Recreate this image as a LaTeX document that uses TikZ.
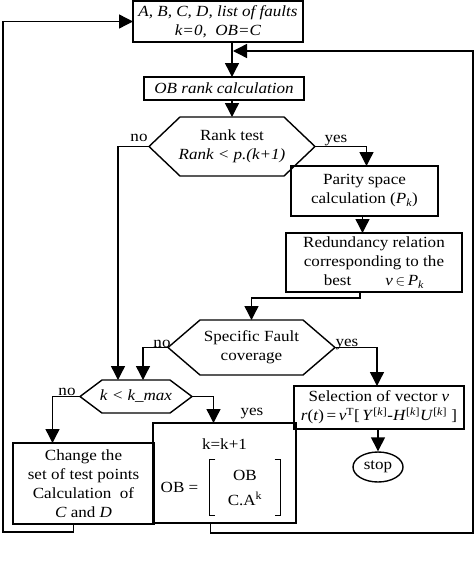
\documentclass[tikz,border=0pt]{standalone}
\usepackage{amsmath}
\usepackage{fontspec}
\setmainfont{Liberation Serif}[FakeStretch=1.1]
\usetikzlibrary{arrows.meta,shapes.geometric}

\begin{document}
\begin{tikzpicture}[x=1pt,y=-1pt,
	line width=1.4pt,
	font=\fontsize{15.5}{19}\selectfont,
	box/.style={draw, rectangle, align=center, inner sep=1pt, outer sep=0pt},
	dec/.style={align=center, inner sep=1pt, outer sep=0pt},
	arr/.style={-{Triangle[length=14pt,width=14pt]}},
	lbl/.style={inner sep=1pt}]

	\useasboundingbox (0,0) rectangle (474,562);

	% hexagon round a decision node: name, depth of the point
	\def\hexa#1#2{\draw (#1.west) -- ([xshift=#2]#1.north west) -- ([xshift=-#2]#1.north east)
		-- (#1.east) -- ([xshift=-#2]#1.south east) -- ([xshift=#2]#1.south west) -- cycle;}

	% boxes
	\node[box, minimum width=170pt, minimum height=41pt] (top) at (218,21.5)
		{\textit{A, B, C, D, list of faults}\\\textit{k=0,\ \ OB=C}};
	\node[box, minimum width=160pt, minimum height=23pt] (rank) at (224,88.5)
		{\textit{OB rank calculation}};
	\node[box, minimum width=147pt, minimum height=50pt] (parity) at (364.5,191)
		{Parity space\\calculation (\textit{P}\textsubscript{\textit{k}})};
	\node[box, minimum width=176pt, minimum height=59pt] (redund) at (374,262.5)
		{Redundancy relation\\corresponding to the\\best\hspace{2.2em}\textit{v}\,$\in$\,\textit{P}\textsubscript{\textit{k}}};
	\node[box, minimum width=141pt, minimum height=81pt] (change) at (83.5,483.5)
		{Change the\\set of test points\\Calculation\ \ of\\\textit{C} and \textit{D}};
	\node[box, minimum width=143pt, minimum height=100pt] (incr) at (224.5,473) {};
	\node[inner sep=1pt] (kinc) at ([yshift=-21pt]incr.north) {k=k+1};
	\node[inner sep=1pt] (obeq) at ([xshift=-45pt,yshift=-14.5pt]incr.center) {OB =};
	\node[inner sep=0pt, align=center, minimum width=70pt, minimum height=55pt] (obvec)
		at ([xshift=20.5pt,yshift=-14.5pt]incr.center) {OB\\[6pt]C.A\textsuperscript{k}};
	\draw ([xshift=6pt]obvec.north west) -- (obvec.north west) -- (obvec.south west) -- ([xshift=6pt]obvec.south west);
	\draw ([xshift=-6pt]obvec.north east) -- (obvec.north east) -- (obvec.south east) -- ([xshift=-6pt]obvec.south east);
	\node[box, minimum width=170pt, minimum height=43pt] (select) at (379,407.5)
		{Selection of vector \textit{v}\\\textit{r}(\textit{t})\,=\,\textit{v}\textsuperscript{T}[\,\textit{Y}\textsuperscript{[\textit{k}]}-\textit{H}\textsuperscript{[\textit{k}]}\textit{U}\textsuperscript{[\textit{k}]}\ ]};
	\node[draw, ellipse, minimum width=50pt, minimum height=30pt, inner sep=1pt] (stop) at (378,467) {stop};

	% decisions
	\node[dec, minimum width=166pt, minimum height=59pt] (ranktest) at (232,146.5)
		{Rank test\\\textit{Rank < p.(k+1)}};
	\node[dec, minimum width=167pt, minimum height=55pt] (fault) at (251.5,347.5)
		{Specific Fault\\coverage};
	\node[dec, minimum width=112pt, minimum height=33pt] (kmax) at (136,396.5)
		{\textit{k < k\_max}};
	\hexa{ranktest}{31}
	\hexa{fault}{32}
	\hexa{kmax}{22}

	% arrows
	\draw[arr] (top.south -| ranktest.north) -- (rank.north -| ranktest.north);
	\draw[arr] (rank.south -| ranktest.north) -- (ranktest.north);
	\draw[arr] (ranktest.west) -| ([xshift=-18pt]kmax.north);
	\draw[arr] (ranktest.east) -| ([xshift=2pt]parity.north);
	\draw[arr] ([xshift=-2pt]parity.south) -- ([xshift=-2pt]parity.south |- redund.north);
	\draw[arr] ([xshift=-14pt]redund.south) -- ++(0,6) -| (fault.north);
	\draw[arr] (fault.west) -| ([xshift=7pt]kmax.north);
	\draw[arr] (fault.east) -| ([xshift=-2pt]select.north);
	\draw[arr] (select.south -| stop.north) -- (stop.north);
	\draw[arr] (kmax.west) -| ([xshift=-31pt]change.north);
	\draw[arr] (kmax.east) -| ([xshift=-11pt]incr.north);

	% feedback loops
	\coordinate (loopL) at (3,532);
	\coordinate (loopR) at (473,533);
	\coordinate (merge) at (233,51);
	\draw[arr] ([xshift=-10pt]change.south) |- (loopL) |- (top.west);
	\draw[arr] ([xshift=-14pt]incr.south) |- (loopR) |- (merge);

	% branch labels
	\node[lbl] (no1) at (139,138) {no};
	\node[lbl] (yes1) at (336,141) {yes};
	\node[lbl] (no2) at (162,344) {no};
	\node[lbl] (yes2) at (347,345) {yes};
	\node[lbl] (no3) at (67,392) {no};
	\node[lbl] (yes3) at (252,414) {yes};

\end{tikzpicture}
\end{document}
